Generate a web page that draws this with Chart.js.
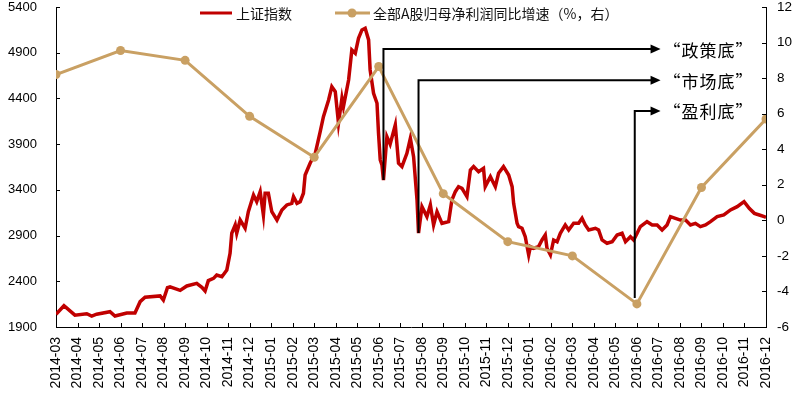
<!DOCTYPE html>
<html>
<head>
<meta charset="utf-8">
<script src="https://cdn.jsdelivr.net/npm/chart.js@4/dist/chart.umd.min.js"></script>
<style>
  html, body { margin: 0; padding: 0; background: #fff; }
  #wrap { width: 800px; height: 394px; position: relative; }
</style>
</head>
<body>
<div id="wrap"><canvas id="chart"></canvas></div>
<script>
// month labels on the x axis (position 0 = 2014-03)
const monthLabels = [
  '2014-03', '2014-04', '2014-05', '2014-06', '2014-07', '2014-08', '2014-09', '2014-10', '2014-11', '2014-12',
  '2015-01', '2015-02', '2015-03', '2015-04', '2015-05', '2015-06', '2015-07', '2015-08', '2015-09', '2015-10',
  '2015-11', '2015-12', '2016-01', '2016-02', '2016-03', '2016-04', '2016-05', '2016-06', '2016-07', '2016-08',
  '2016-09', '2016-10', '2016-11', '2016-12'
];

// 上证指数 (x = position in months from 2014-03)
const indexPos = [
  0, 0.37, 0.88, 1.43, 1.66, 1.89, 2.51, 2.74, 3.29, 3.67, 3.91, 4.14, 4.84, 4.99, 5.18, 5.30, 5.77, 6.08, 6.54, 6.78,
  6.93, 7.08, 7.32, 7.47, 7.71, 7.94, 8.09, 8.17, 8.33, 8.40, 8.56, 8.79, 8.94, 9.18, 9.33, 9.49, 9.64, 9.72, 9.87, 10.03,
  10.27, 10.50, 10.73, 10.96, 11.04, 11.20, 11.35, 11.50, 11.58, 11.81, 12.05, 12.28, 12.43, 12.67, 12.82, 12.98, 13.13, 13.29, 13.36, 13.60,
  13.75, 13.91, 14.06, 14.22, 14.37, 14.53, 14.60, 14.76, 14.92, 14.99, 15.07, 15.15, 15.22, 15.38, 15.53, 15.77, 15.92, 16.08, 16.31, 16.47,
  16.62, 16.78, 16.85, 17.01, 17.24, 17.40, 17.55, 17.71, 17.94, 18.25, 18.40, 18.56, 18.71, 18.87, 19.10, 19.26, 19.41, 19.64, 19.87, 19.95,
  20.19, 20.42, 20.57, 20.80, 21.04, 21.20, 21.27, 21.43, 21.50, 21.66, 21.81, 21.97, 22.05, 22.20, 22.43, 22.59, 22.74, 22.82, 22.98, 23.13,
  23.29, 23.44, 23.67, 23.83, 24.06, 24.29, 24.45, 24.60, 24.76, 25.07, 25.22, 25.38, 25.61, 25.85, 26.08, 26.31, 26.47, 26.70, 26.85, 27.01,
  27.16, 27.47, 27.71, 27.94, 28.17, 28.40, 28.56, 28.79, 29.02, 29.26, 29.49, 29.72, 29.95, 30.19, 30.42, 30.73, 31.04, 31.35, 31.66, 31.98,
  32.22, 32.46, 32.69, 32.92, 33
];
const indexVal = [
  2040, 2133, 2030, 2045, 2020, 2040, 2067, 2020, 2053, 2053, 2177, 2225, 2240, 2195, 2330, 2338, 2300, 2349, 2378, 2334,
  2294, 2407, 2432, 2469, 2450, 2524, 2706, 2925, 3016, 2925, 3070, 2980, 3161, 3344, 3271, 3380, 3125, 3363, 3363, 3161,
  3070, 3180, 3235, 3253, 3326, 3253, 3271, 3363, 3563, 3691, 3800, 4037, 4201, 4383, 4529, 4474, 4129, 4402, 4310, 4602,
  4930, 4894, 5058, 5149, 5168, 5040, 4712, 4457, 4347, 4019, 3727, 3672, 3507, 3982, 3900, 4110, 3691, 3654, 3800, 3964,
  3763, 3289, 2927, 3216, 3107, 3235, 3016, 3161, 3034, 3052, 3289, 3380, 3435, 3417, 3326, 3617, 3654, 3599, 3636, 3435,
  3544, 3435, 3581, 3654, 3563, 3435, 3253, 3034, 2998, 2980, 2888, 2688, 2779, 2761, 2779, 2852, 2906, 2761, 2688, 2852,
  2833, 2925, 3016, 2961, 3034, 3034, 3089, 3016, 2961, 2980, 2961, 2852, 2816, 2833, 2906, 2925, 2833, 2888, 2852, 2925,
  2998, 3052, 3016, 3016, 2961, 3016, 3107, 3089, 3070, 3070, 3016, 3034, 2998, 3016, 3052, 3107, 3125, 3180, 3216, 3271,
  3198, 3143, 3125, 3107, 3100
];

// 全部A股归母净利润同比增速 (%), quarterly
const profitPos = [0, 3, 6, 9, 12, 15, 18, 21, 24, 27, 30, 33];
const profitVal = [8.2, 9.55, 9.0, 5.85, 3.55, 8.65, 1.5, -1.2, -2.0, -4.7, 1.85, 5.7];

// axis ticks
const leftTicks = [1900, 2400, 2900, 3400, 3900, 4400, 4900, 5400];
const rightTicks = [-6, -4, -2, 0, 2, 4, 6, 8, 10, 12];

// callouts: vertical line at a low, then arrow to the label (left axis units)
const bottomNames = ['“政策底”', '“市场底”', '“盈利底”'];
const bottomPos = [15.22, 16.85, 26.9];
const bottomFrom = [3507, 2927, 2217];
const bottomLevel = [4940, 4600, 4262];
const arrowEnd = 28.1;

const RED = '#C00000';
const GOLD = '#C9A063';
const CJK = '"Noto Sans CJK SC", "Noto Sans", sans-serif';
const LATIN = '"Liberation Sans", Arial, sans-serif';

const extras = {
  id: 'extras',
  afterDatasetsDraw(chart) {
    const ctx = chart.ctx;
    const x = chart.scales.x;
    const yl = chart.scales.y;
    const yr = chart.scales.y1;
    const area = chart.chartArea;

    // inside tick marks
    ctx.save();
    ctx.strokeStyle = '#000';
    ctx.lineWidth = 1;
    ctx.beginPath();
    monthLabels.forEach((_, i) => {
      const px = Math.round(x.getPixelForValue(i)) + 0.5;
      ctx.moveTo(px, area.bottom);
      ctx.lineTo(px, area.bottom - 4);
    });
    leftTicks.forEach(v => {
      const py = Math.round(yl.getPixelForValue(v)) + 0.5;
      ctx.moveTo(area.left, py);
      ctx.lineTo(area.left + 4, py);
    });
    rightTicks.forEach(v => {
      const py = Math.round(yr.getPixelForValue(v)) + 0.5;
      ctx.moveTo(area.right, py);
      ctx.lineTo(area.right - 4, py);
    });
    ctx.stroke();

    // callouts
    const tip = x.getPixelForValue(arrowEnd);
    bottomNames.forEach((name, i) => {
      const px = x.getPixelForValue(bottomPos[i]);
      const y0 = yl.getPixelForValue(bottomFrom[i]);
      const y1 = yl.getPixelForValue(bottomLevel[i]);
      ctx.strokeStyle = '#000';
      ctx.lineWidth = 2;
      ctx.beginPath();
      ctx.moveTo(px, y0);
      ctx.lineTo(px, y1);
      ctx.lineTo(tip - 8, y1);
      ctx.stroke();
      ctx.fillStyle = '#000';
      ctx.beginPath();
      ctx.moveTo(tip, y1);
      ctx.lineTo(tip - 10, y1 - 4.5);
      ctx.lineTo(tip - 10, y1 + 4.5);
      ctx.closePath();
      ctx.fill();
      ctx.font = '17px ' + CJK;
      ctx.letterSpacing = '1px';
      ctx.textAlign = 'left';
      ctx.textBaseline = 'middle';
      ctx.fillText(name, tip + 3, y1 + 1);
      ctx.letterSpacing = '0px';
    });

    // legend
    const ly = 13;
    ctx.lineWidth = 3;
    ctx.strokeStyle = RED;
    ctx.beginPath();
    ctx.moveTo(200, ly);
    ctx.lineTo(232, ly);
    ctx.stroke();
    ctx.strokeStyle = GOLD;
    ctx.beginPath();
    ctx.moveTo(335, ly);
    ctx.lineTo(370, ly);
    ctx.stroke();
    ctx.fillStyle = GOLD;
    ctx.beginPath();
    ctx.arc(352, ly, 4.5, 0, Math.PI * 2);
    ctx.fill();
    ctx.fillStyle = '#111';
    ctx.font = '14px ' + CJK;
    ctx.textAlign = 'left';
    ctx.textBaseline = 'middle';
    ctx.fillText('上证指数', 236, ly + 1);
    ctx.fillText('全部A股归母净利润同比增速（%，右）', 373, ly + 1);
    ctx.restore();
  }
};

function fixVertical(width) {
  return (scale) => {
    scale.width = width;
    scale.paddingTop = 0;
    scale.paddingBottom = 0;
  };
}

const chart = new Chart(document.getElementById('chart'), {
  type: 'line',
  data: {
    datasets: [
      {
        label: '上证指数',
        data: indexPos.map((p, i) => ({ x: p, y: indexVal[i] })),
        yAxisID: 'y',
        borderColor: RED,
        borderWidth: 3.5,
        pointRadius: 0,
        tension: 0,
        order: 1
      },
      {
        label: '全部A股归母净利润同比增速（%，右）',
        data: profitPos.map((p, i) => ({ x: p, y: profitVal[i] })),
        yAxisID: 'y1',
        borderColor: GOLD,
        backgroundColor: GOLD,
        borderWidth: 3,
        pointRadius: 4.5,
        pointBackgroundColor: GOLD,
        pointBorderWidth: 0,
        tension: 0,
        order: 0
      }
    ]
  },
  options: {
    responsive: true,
    maintainAspectRatio: false,
    animation: false,
    layout: { padding: { top: 7, left: 0, right: 0, bottom: 0 } },
    plugins: { legend: { display: false }, tooltip: { enabled: false } },
    scales: {
      x: {
        type: 'linear',
        min: 0,
        max: 33,
        afterBuildTicks: (scale) => { scale.ticks = monthLabels.map((_, i) => ({ value: i })); },
        afterFit: (scale) => { scale.height = 67; scale.paddingLeft = 0; scale.paddingRight = 0; },
        grid: { display: true, drawOnChartArea: false, drawTicks: false },
        border: { display: true, color: '#000', width: 1 },
        ticks: {
          autoSkip: false,
          maxRotation: 90,
          minRotation: 90,
          padding: 10,
          color: '#000',
          font: { family: LATIN, size: 14 },
          callback: (v) => monthLabels[v]
        }
      },
      y: {
        position: 'left',
        min: 1900,
        max: 5400,
        afterBuildTicks: (scale) => { scale.ticks = leftTicks.map(v => ({ value: v })); },
        afterFit: fixVertical(56),
        grid: { display: true, drawOnChartArea: false, drawTicks: false },
        border: { display: true, color: '#000', width: 1 },
        ticks: { padding: 19, color: '#000', font: { family: LATIN, size: 13 }, callback: (v) => String(v) }
      },
      y1: {
        position: 'right',
        min: -6,
        max: 12,
        afterBuildTicks: (scale) => { scale.ticks = rightTicks.map(v => ({ value: v })); },
        afterFit: fixVertical(34),
        grid: { display: true, drawOnChartArea: false, drawTicks: false },
        border: { display: true, color: '#000', width: 1 },
        ticks: { padding: 11, color: '#000', font: { family: LATIN, size: 13.5 }, callback: (v) => String(v) }
      }
    }
  },
  plugins: [extras]
});
</script>
</body>
</html>
